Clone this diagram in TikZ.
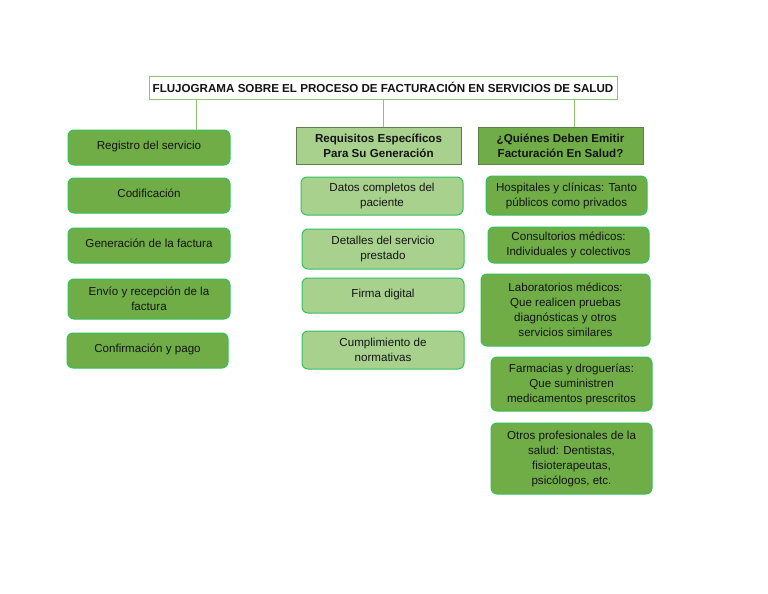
\documentclass[tikz,border=0pt]{standalone}
\usepackage{fontspec}
\setmainfont{Liberation Sans}
\definecolor{dkg}{HTML}{70AD47}
\definecolor{ltg}{HTML}{A9D18E}
\definecolor{brd}{HTML}{33C060}
\definecolor{hbrd}{HTML}{5E7F4C}
\definecolor{lnk}{HTML}{8CC66E}
\definecolor{txt}{HTML}{141414}
\begin{document}
\begin{tikzpicture}[x=1pt,y=-1pt,
  base/.style={inner sep=0pt, align=center, text=txt, font=\fontsize{11.6}{15}\selectfont},
  dkbox/.style={base, rounded corners=6pt, draw=brd, line width=1pt, fill=dkg},
  ltbox/.style={base, rounded corners=6pt, draw=brd, line width=1pt, fill=ltg},
  hdbox/.style={base, draw=hbrd, line width=0.8pt, font=\bfseries\fontsize{11.6}{15}\selectfont},
  one/.style={text depth=4pt},
  link/.style={draw=lnk, line width=1pt}]
\useasboundingbox[fill=white] (0,0) rectangle (768,594);
\newcommand{\bx}[6]{\node[#1, minimum width=#4-#2, minimum height=#5-#3] (#6) at ({(#2+#4)/2},{(#3+#5)/2})}
% title
\bx{hdbox}{149}{76}{617}{99}{title} [draw=lnk, fill=white, font=\bfseries\fontsize{11.6}{14}\selectfont] {FLUJOGRAMA SOBRE EL PROCESO DE FACTURACIÓN EN SERVICIOS DE SALUD};
% left column
\bx{dkbox}{68}{130}{230}{165}{l1} [one] {Registro del servicio};
\bx{dkbox}{68}{178}{230}{213}{l2} [one] {Codificación};
\bx{dkbox}{68}{228}{230}{263}{l3} [one] {Generación de la factura};
\bx{dkbox}{68}{278}{230}{318}{l4} [yshift=-1] {Envío y recepción de la\\factura};
\bx{dkbox}{67}{333}{228}{368}{l5} [one] {Confirmación y pago};
% middle column
\bx{hdbox}{296}{127}{461}{164}{mh} [fill=ltg] {Requisitos Específicos\\Para Su Generación};
\bx{ltbox}{301}{177}{463}{215}{m1} {Datos completos del\\paciente};
\bx{ltbox}{302}{229}{464}{269}{m2} {Detalles del servicio\\prestado};
\bx{ltbox}{302}{278}{464}{313}{m3} [one] {Firma digital};
\bx{ltbox}{302}{330}{464}{368}{m4} [yshift=-1] {Cumplimiento de\\normativas};
% right column
\bx{hdbox}{478}{127}{643}{164}{rh} [fill=dkg] {¿Quiénes Deben Emitir\\Facturación En Salud?};
\bx{dkbox}{486}{175}{647}{214}{r1} [yshift=-1] {Hospitales y clínicas: Tanto\\públicos como privados};
\bx{dkbox}{488}{226}{649}{262}{r2} [yshift=-1] {Consultorios médicos:\\Individuales y colectivos};
\bx{dkbox}{481}{274}{650}{346}{r3} {Laboratorios médicos:\\Que realicen pruebas\\diagnósticas y otros\\servicios similares};
\bx{dkbox}{491}{357}{652}{411}{r4} {Farmacias y droguerías:\\Que suministren\\medicamentos prescritos};
\bx{dkbox}{491}{423}{652}{494}{r5} {Otros profesionales de la\\salud: Dentistas,\\fisioterapeutas,\\psicólogos, etc.};
% connectors
\coordinate (t1) at (196,99);
\coordinate (t2) at (383,99);
\coordinate (t3) at (574,99);
\draw[link] (t1) -- (t1 |- l1.north);
\draw[link] (t2) -- (t2 |- mh.north);
\draw[link] (t3) -- (t3 |- rh.north);
\end{tikzpicture}
\end{document}
